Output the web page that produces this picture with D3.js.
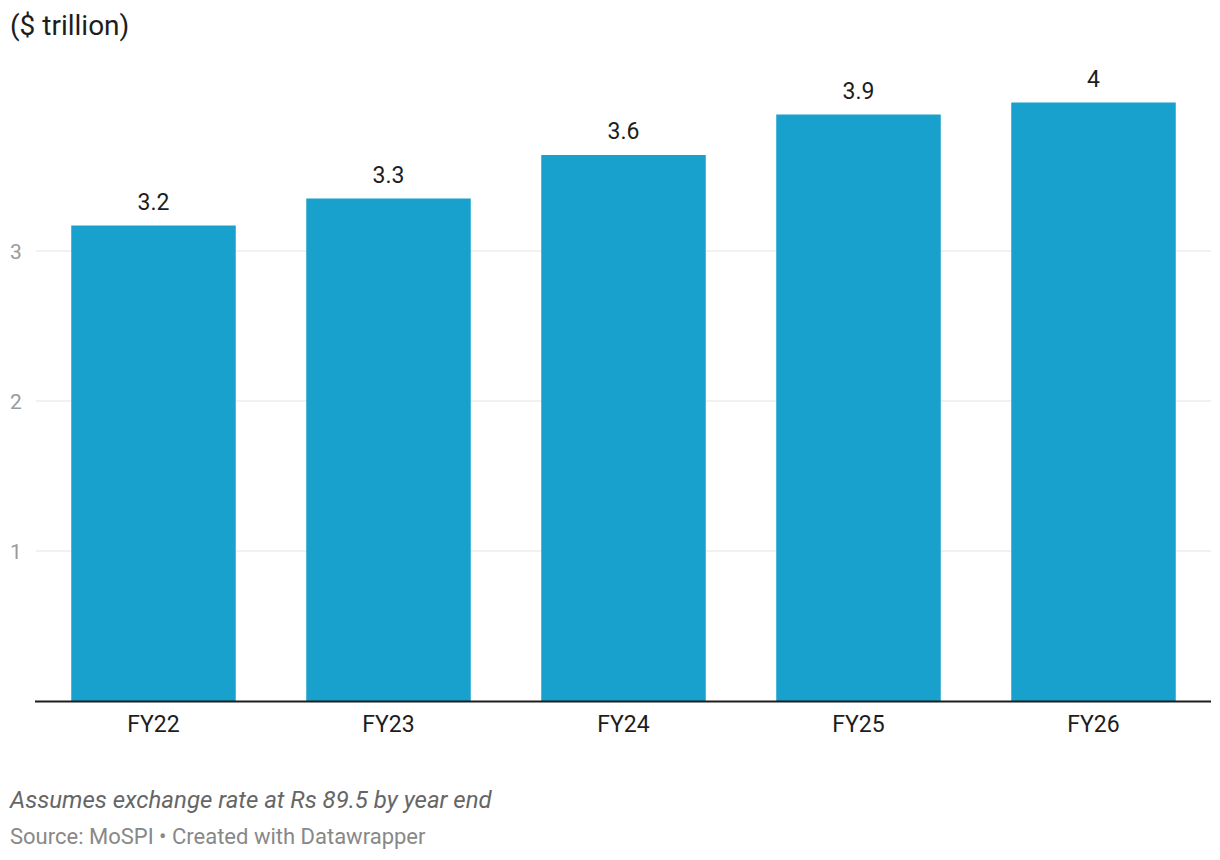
<!DOCTYPE html>
<html>
<head>
<meta charset="utf-8">
<script src="https://cdn.jsdelivr.net/npm/d3@7"></script>
<style>
  body { margin: 0; background: #fff; font-family: Roboto, sans-serif; }
</style>
</head>
<body>
<script>
var width = 1220
var height = 860

var categories = ["FY22", "FY23", "FY24", "FY25", "FY26"]
var values = [3.17, 3.35, 3.64, 3.91, 3.99]
var valueLabels = ["3.2", "3.3", "3.6", "3.9", "4"]
var yTicks = [1, 2, 3]

const svg = d3.select("body").append("svg")
  .attr("width", width)
  .attr("height", height)

// plot area
const plotLeft = 36, plotRight = 1211, plotBottom = 701

const x = d3.scaleBand()
  .domain(categories)
  .range([plotLeft, plotRight])
  .paddingInner(0.3)
  .paddingOuter(0.15)

const y = d3.scaleLinear()
  .domain([0, 4])
  .range([plotBottom, plotBottom - 600])

// title
svg.append("text")
  .attr("x", 10).attr("y", 35)
  .attr("font-size", 28)
  .attr("fill", "#1d1d1d")
  .text("($ trillion)")

// gridlines + tick labels
const grid = svg.append("g")
grid.selectAll("line")
  .data(yTicks)
  .join("line")
  .attr("x1", plotLeft).attr("x2", plotRight)
  .attr("y1", d => y(d)).attr("y2", d => y(d))
  .attr("stroke", "#e3e3e3")
  .attr("stroke-width", 1)

grid.selectAll("text")
  .data(yTicks)
  .join("text")
  .attr("x", 10)
  .attr("y", d => y(d))
  .attr("dy", "0.36em")
  .attr("font-size", 21)
  .attr("fill", "#9a9a9a")
  .text(d => d)

// bars
svg.append("g")
  .selectAll("rect")
  .data(values)
  .join("rect")
  .attr("x", (d, i) => x(categories[i]))
  .attr("y", d => y(d))
  .attr("width", x.bandwidth())
  .attr("height", d => y(0) - y(d))
  .attr("fill", "#18a1cd")

// value labels
svg.append("g")
  .selectAll("text")
  .data(values)
  .join("text")
  .attr("x", (d, i) => x(categories[i]) + x.bandwidth() / 2)
  .attr("y", d => y(d) - 16)
  .attr("text-anchor", "middle")
  .attr("font-size", 23)
  .attr("fill", "#1d1d1d")
  .text((d, i) => valueLabels[i])

// baseline
svg.append("line")
  .attr("x1", 35).attr("x2", plotRight)
  .attr("y1", plotBottom + 0.5).attr("y2", plotBottom + 0.5)
  .attr("stroke", "#1d1d1d")
  .attr("stroke-width", 2)

// x axis labels
const xAxis = svg.append("g")
  .attr("transform", `translate(0,${plotBottom})`)
  .call(d3.axisBottom(x).tickSize(0).tickPadding(15))
xAxis.select(".domain").remove()
xAxis.selectAll("text")
  .attr("font-family", "Roboto, sans-serif")
  .attr("font-size", 23)
  .attr("fill", "#1d1d1d")

// notes
svg.append("text")
  .attr("x", 10).attr("y", 808)
  .attr("font-size", 24)
  .attr("font-style", "italic")
  .attr("fill", "#666")
  .text("Assumes exchange rate at Rs 89.5 by year end")

svg.append("text")
  .attr("x", 10).attr("y", 844)
  .attr("font-size", 22)
  .attr("fill", "#888")
  .text("Source: MoSPI \u2022 Created with Datawrapper")
</script>
</body>
</html>
